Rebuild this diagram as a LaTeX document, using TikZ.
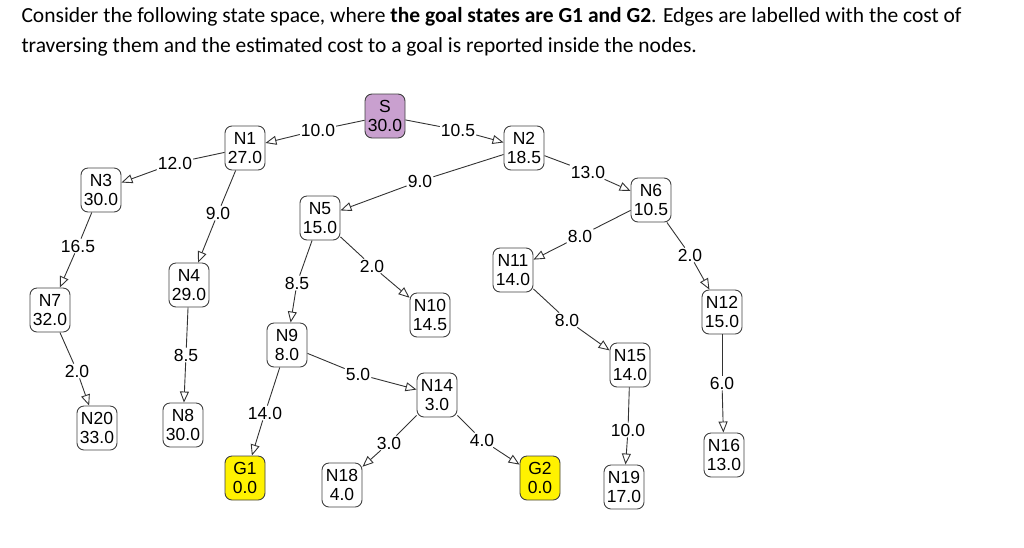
\documentclass[tikz,border=0pt]{standalone}
\usepackage{fontspec}
\setmainfont{Liberation Sans}
\newfontfamily\headfont{Carlito}
\usetikzlibrary{arrows.meta}
\definecolor{sviolet}{RGB}{201,160,207}
\begin{document}
\begin{tikzpicture}[x=1pt,y=-1pt,
  st/.style={draw=black!75,rounded corners=7pt,align=center,inner sep=1.5pt,minimum width=40pt,minimum height=44pt,font=\fontsize{17.5}{19}\selectfont,line width=0.9pt},
  lbl/.style={fill=white,inner sep=1pt,font=\fontsize{17.5}{19}\selectfont},
  ed/.style={draw=black!80,line width=0.9pt},
  ar/.style={ed,-{Triangle[open,length=11pt,width=9pt]}}]
\useasboundingbox (0,0) rectangle (1024,547);
\node[anchor=west,font=\headfont\fontsize{21.5}{24}\selectfont] (h1) at (18,17) {Consider the following state space, where \textbf{the goal states are G1 and G2}. Edges are labelled with the cost of};
\node[anchor=west,font=\headfont\fontsize{21.5}{24}\selectfont] (h2) at (18,47) {traversing them and the estimated cost to a goal is reported inside the nodes.};
\node[st,fill=sviolet] (S) at (385,116) {S\\30.0};
\node[st] (N1) at (245,148) {N1\\27.0};
\node[st] (N2) at (524,148) {N2\\18.5};
\node[st] (N3) at (101,190) {N3\\30.0};
\node[st] (N6) at (651,200) {N6\\10.5};
\node[st] (N5) at (320,218) {N5\\15.0};
\node[st] (N4) at (189,285) {N4\\29.0};
\node[st] (N7) at (50,310) {N7\\32.0};
\node[st] (N10) at (430,315) {N10\\14.5};
\node[st] (N11) at (513,270) {N11\\14.0};
\node[st] (N12) at (722,312) {N12\\15.0};
\node[st] (N9) at (287,345) {N9\\8.0};
\node[st] (N15) at (630,365) {N15\\14.0};
\node[st] (N14) at (437,395) {N14\\3.0};
\node[st] (N20) at (97,428) {N20\\33.0};
\node[st] (N8) at (183,425) {N8\\30.0};
\node[st] (N16) at (724,455) {N16\\13.0};
\node[st,fill=yellow] (G1) at (245,478) {G1\\0.0};
\node[st] (N18) at (342,485) {N18\\4.0};
\node[st,fill=yellow] (G2) at (540,478) {G2\\0.0};
\node[st] (N19) at (624,487) {N19\\17.0};
\foreach \a/\b/\x/\y/\t in {S/N1/318/130/10.0, S/N2/458/130/10.5, N1/N3/175/163/12.0, N2/N5/420/181/9.0, N2/N6/588/172/13.0, N1/N4/218/213/9.0, N3/N7/78/246/16.5, N5/N9/297/283/8.5, N5/N10/372/266/2.0, N6/N11/580/236/8.0, N6/N12/690/255/2.0, N11/N15/567/320/8.0, N4/N8/186/355/8.5, N7/N20/77/371/2.0, N9/N14/358/374/5.0, N9/G1/265/413/14.0, N14/N18/389/443/3.0, N14/G2/482/440/4.0, N15/N19/628/430/10.0, N12/N16/722/383/6.0}{
  \node[lbl] (L\a\b) at (\x,\y) {\t};
  \draw[ed] (\a) -- (L\a\b);
  \draw[ar] (L\a\b) -- (\b);
}
\end{tikzpicture}
\end{document}
